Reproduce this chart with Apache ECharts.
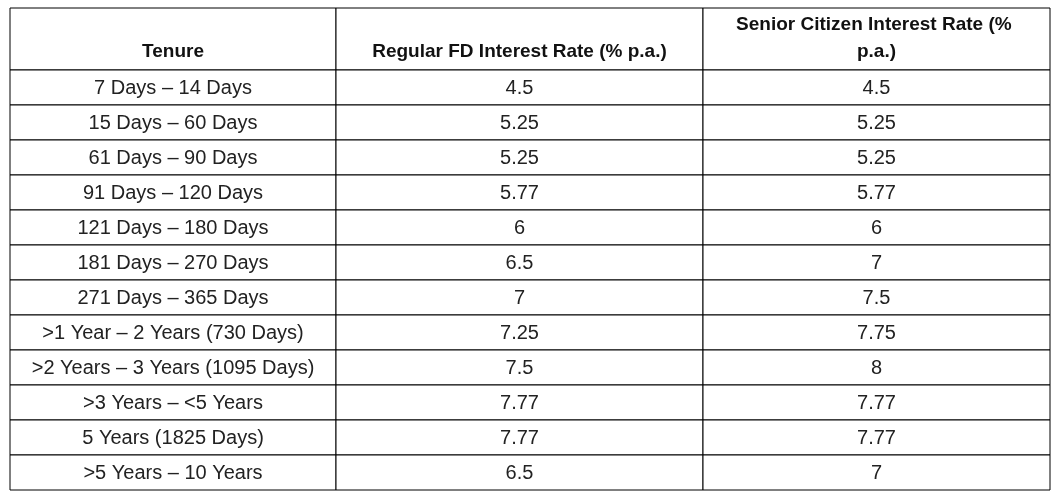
<!DOCTYPE html>
<html><head><meta charset="utf-8">
<script src="https://cdn.jsdelivr.net/npm/echarts@6/dist/echarts.min.js"></script>
<style>html,body{margin:0;background:#fff}#c{width:1054px;height:493px}</style>
</head><body><div id="c"></div>
<script>
var headers = ["Tenure", "Regular FD Interest Rate (% p.a.)", "Senior Citizen Interest Rate (% p.a.)"];
var tenures = ["7 Days – 14 Days","15 Days – 60 Days","61 Days – 90 Days","91 Days – 120 Days","121 Days – 180 Days","181 Days – 270 Days","271 Days – 365 Days",">1 Year – 2 Years (730 Days)",">2 Years – 3 Years (1095 Days)",">3 Years – <5 Years","5 Years (1825 Days)",">5 Years – 10 Years"];
var regular = ["4.5","5.25","5.25","5.77","6","6.5","7","7.25","7.5","7.77","7.77","6.5"];
var senior = ["4.5","5.25","5.25","5.77","6","7","7.5","7.75","8","7.77","7.77","7"];

var colEdges = [0, 326, 693, 1040];
var headerH = 1.771;
var cells = [];
headers.forEach(function(h, c){ cells.push([c, -1, h]); });
tenures.forEach(function(t, r){ cells.push([0, r, t]); cells.push([1, r, regular[r]]); cells.push([2, r, senior[r]]); });

var chart = echarts.init(document.getElementById('c'));
chart.setOption({
  animation: false,
  grid: {left: 10, right: 4, top: 8, bottom: 3},
  xAxis: {type: 'value', min: 0, max: 1040, show: false},
  yAxis: {type: 'value', min: 0, max: 12 + headerH, inverse: true, show: false},
  series: [{
    type: 'custom',
    data: cells,
    renderItem: function(params, api){
      var c = api.value(0), r = api.value(1);
      var txt = cells[params.dataIndex][2];
      var y0 = r < 0 ? 0 : headerH + r, y1 = r < 0 ? headerH : headerH + r + 1;
      var p0 = api.coord([colEdges[c], y0]), p1 = api.coord([colEdges[c+1], y1]);
      var w = p1[0] - p0[0], h = p1[1] - p0[1];
      var isH = r < 0;
      var st = {
        text: txt, x: p0[0] + w/2, y: isH ? p1[1] - 5 : p0[1] + h/2 + 1,
        align: 'center', verticalAlign: isH ? 'bottom' : 'middle',
        lineHeight: 27,
        font: (isH ? 'bold 19px' : '20px') + ' "Liberation Sans", Arial, sans-serif',
        fill: isH ? '#111' : '#222'};
      if (isH) { st.width = w - 30; st.overflow = 'break'; }
      return {type: 'group', children: [
        {type: 'rect', shape: {x: p0[0], y: p0[1], width: w, height: h},
         style: {fill: '#fff', stroke: '#000', lineWidth: 1}},
        {type: 'text', style: st}
      ]};
    }
  }]
});
</script></body></html>
